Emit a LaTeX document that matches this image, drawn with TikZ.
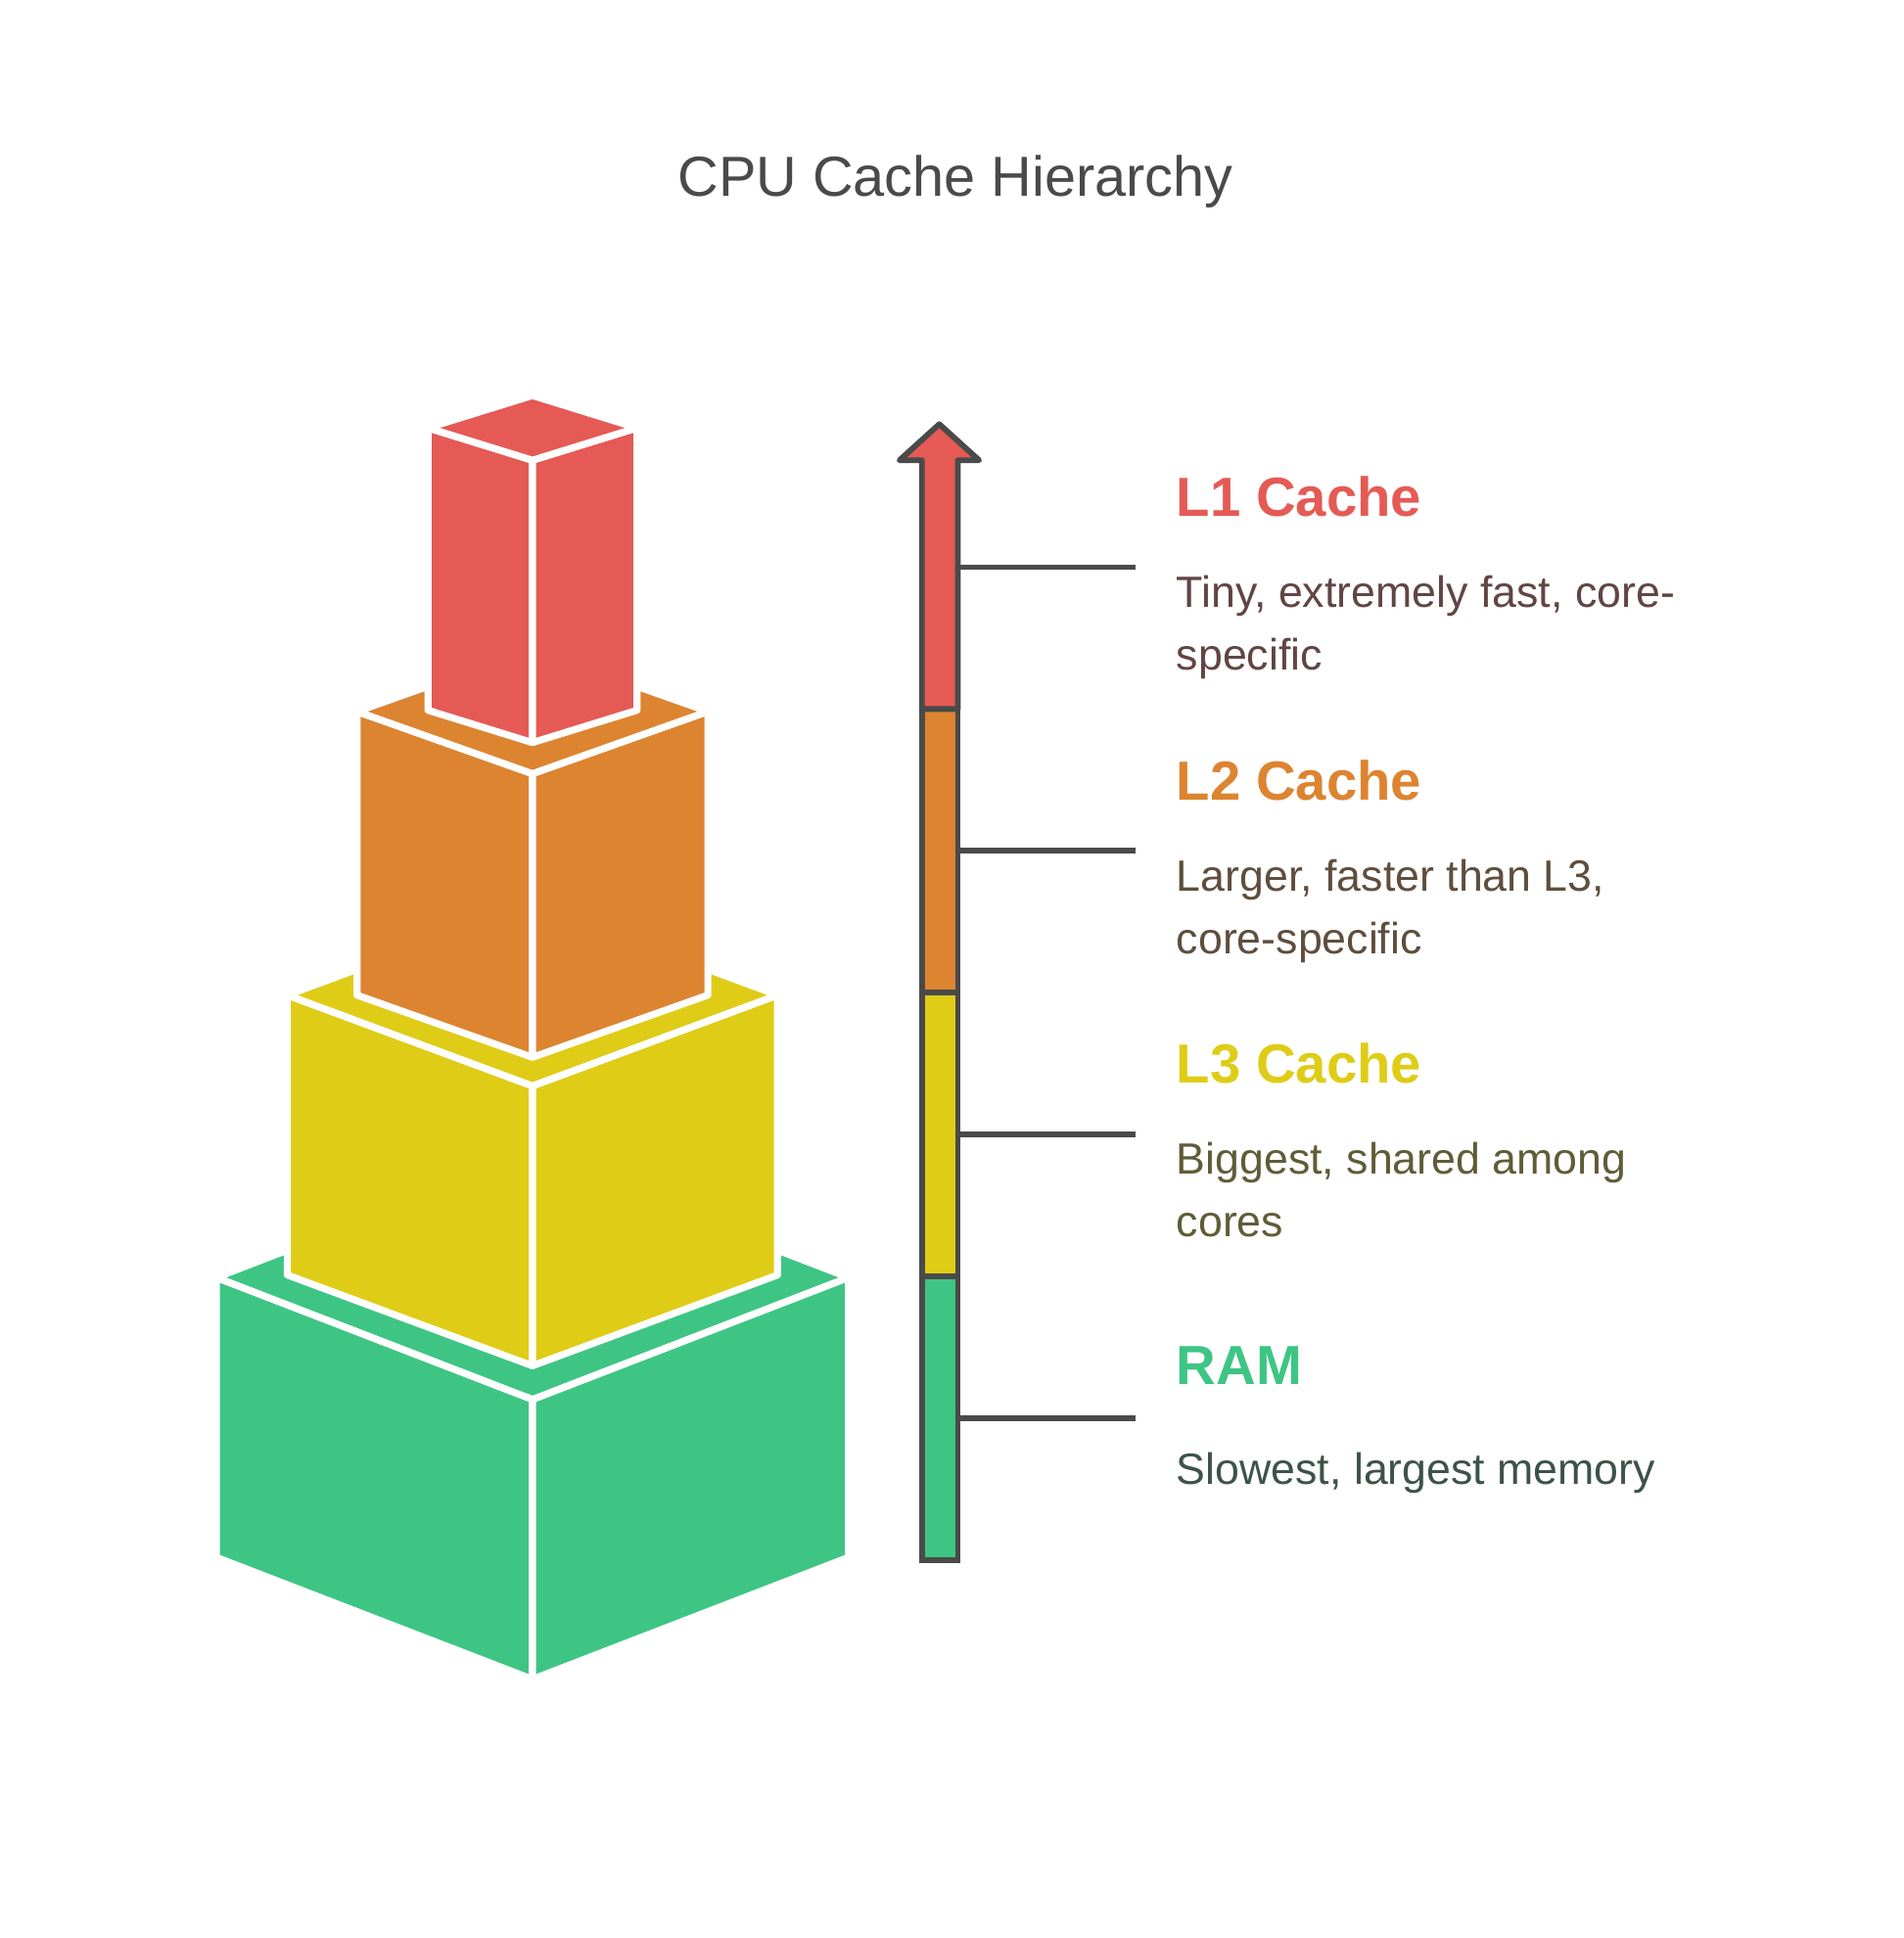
\documentclass[tikz,border=0pt]{standalone}
\usepackage{fontspec}
\setmainfont{Liberation Sans}
\definecolor{cred}{HTML}{E55A55}
\definecolor{corange}{HTML}{DD8431}
\definecolor{cyellow}{HTML}{DFCC17}
\definecolor{cgreen}{HTML}{3EC584}
\definecolor{cgray}{HTML}{4A4A4A}
\begin{document}
\begin{tikzpicture}[x=0.01cm,y=-0.01cm,
    face/.style={draw=white, line width=1.6pt, line join=round},
    bar/.style={draw=cgray, line width=1.3pt},
    tick/.style={draw=cgray, line width=1.3pt},
    head/.style={anchor=base west, inner sep=0pt, font=\fontsize{12.6}{15}\selectfont\bfseries},
    desc/.style={anchor=north west, inner sep=0pt, align=left, font=\fontsize{10}{14.3}\selectfont}
]
\useasboundingbox (0,0) rectangle (1530,1558);
\node[anchor=base, text=cgray, font=\fontsize{12.9}{15}\selectfont] (title) at (768,158) {CPU Cache Hierarchy};

% cubes: #1 colour, #2 half width, #3 front drop, #4 top y (left/right corner), #5 bottom y
\newcommand{\isocube}[5]{%
  \fill[#1,face] (428-#2,#4) -- (428,#4+#3) -- (428,#5+#3) -- (428-#2,#5) -- cycle;
  \fill[#1,face] (428+#2,#4) -- (428,#4+#3) -- (428,#5+#3) -- (428+#2,#5) -- cycle;
  \fill[#1,face] (428-#2,#4) -- (428,#4-#3) -- (428+#2,#4) -- (428,#4+#3) -- cycle;
}
\isocube{cgreen}{254}{98}{1027}{1252}
\isocube{cyellow}{197}{73}{800}{1025}
\isocube{corange}{141}{50}{572}{800}
\isocube{cred}{84}{26}{344}{571}

% bar with arrow
\fill[cgreen,bar] (741,1026) rectangle (770,1254);
\fill[cyellow,bar] (741,798) rectangle (770,1026);
\fill[corange,bar] (741,570) rectangle (770,798);
\fill[cred,bar,line join=round] (741,570) -- (741,370) -- (723,370) -- (755,341) -- (787,370) -- (770,370) -- (770,570) -- cycle;

\coordinate (t1) at (770,456); \coordinate (e1) at (913,456);
\coordinate (t2) at (770,684); \coordinate (e2) at (913,684);
\coordinate (t3) at (770,912); \coordinate (e3) at (913,912);
\coordinate (t4) at (770,1140); \coordinate (e4) at (913,1140);
\draw[tick] (t1) -- (e1);
\draw[tick] (t2) -- (e2);
\draw[tick] (t3) -- (e3);
\draw[tick] (t4) -- (e4);

\node[head, text=cred] (h1) at (945,415) {L1 Cache};
\node[desc, text=cred!25!black!80] (d1) at (945,462) {Tiny, extremely fast, core-\\specific};
\node[head, text=corange] (h2) at (945,643) {L2 Cache};
\node[desc, text=corange!25!black!80] (d2) at (945,690) {Larger, faster than L3,\\core-specific};
\node[head, text=cyellow] (h3) at (945,871) {L3 Cache};
\node[desc, text=cyellow!25!black!80] (d3) at (945,918) {Biggest, shared among\\cores};
\node[head, text=cgreen] (h4) at (945,1113) {RAM};
\node[desc, text=cgreen!20!black!80] (d4) at (945,1167) {Slowest, largest memory};
\end{tikzpicture}
\end{document}
